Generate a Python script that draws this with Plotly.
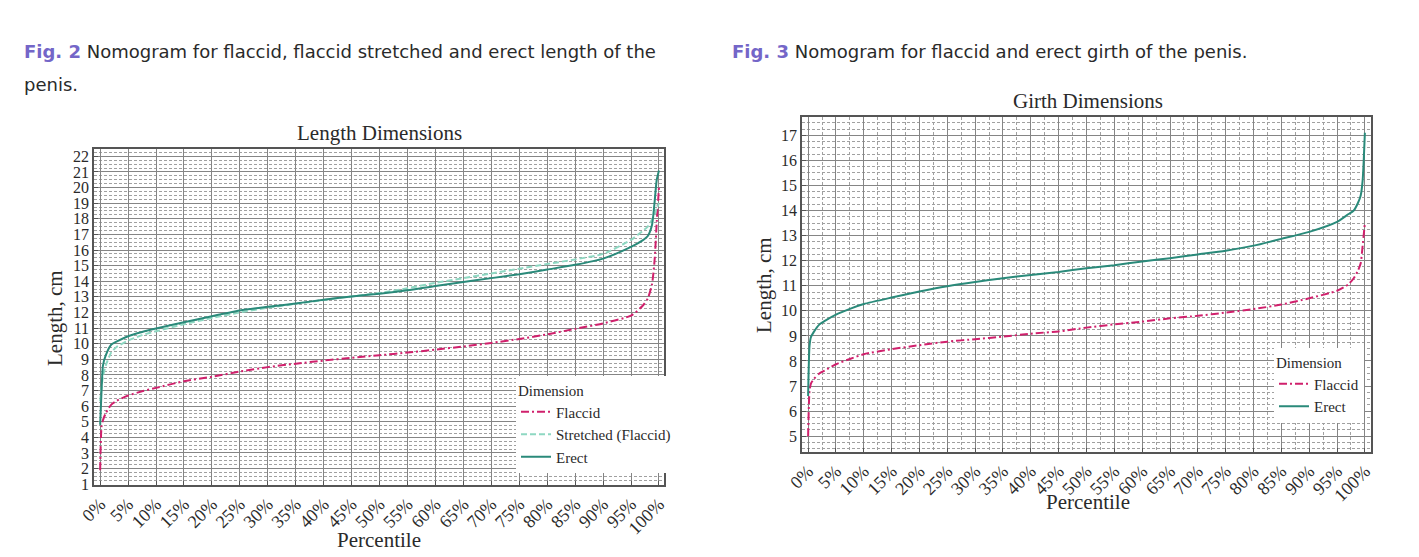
import plotly.graph_objects as go

W, H = 1419, 557

# ---------------- data ----------------
pct = [0, 0.25, 0.5, 1, 2, 3, 5, 7.5, 10, 15, 20, 25, 30, 35, 40, 45, 50,
       55, 60, 65, 70, 75, 80, 85, 90, 95, 97, 98, 98.75, 99.25, 99.6, 100]

len_flaccid = [1.9, 4.7, 5.1, 5.55, 6.1, 6.35, 6.68, 6.95, 7.17, 7.6, 7.88, 8.22, 8.5, 8.72, 8.92, 9.1, 9.26,
               9.43, 9.62, 9.82, 10.05, 10.3, 10.6, 10.95, 11.3, 11.8, 12.4, 12.9, 13.8, 15.5, 17.8, 20.0]
len_stretched = [6.3, 7.2, 7.9, 8.6, 9.45, 9.8, 10.2, 10.55, 10.8, 11.25, 11.65, 12.0, 12.3, 12.55, 12.8, 13.03, 13.25,
                 13.55, 13.9, 14.2, 14.5, 14.8, 15.1, 15.4, 15.75, 16.65, 17.2, 17.5, 17.95, 18.3, 18.7, 19.0]
len_erect = [4.8, 7.0, 8.6, 9.25, 9.95, 10.15, 10.48, 10.75, 10.97, 11.37, 11.76, 12.12, 12.36, 12.57, 12.82, 13.03, 13.2,
             13.42, 13.7, 13.95, 14.2, 14.45, 14.75, 15.05, 15.45, 16.2, 16.6, 16.9, 17.6, 19.2, 20.5, 21.1]

girth_flaccid = [5.0, 6.8, 7.1, 7.27, 7.5, 7.62, 7.87, 8.08, 8.27, 8.47, 8.63, 8.77, 8.87, 8.97, 9.09, 9.18, 9.33,
                 9.46, 9.57, 9.7, 9.8, 9.93, 10.07, 10.25, 10.5, 10.8, 11.05, 11.3, 11.6, 11.9, 12.6, 13.5]
girth_erect = [6.6, 8.6, 8.95, 9.15, 9.45, 9.6, 9.85, 10.08, 10.27, 10.53, 10.77, 10.98, 11.15, 11.3, 11.43, 11.55, 11.7,
               11.82, 11.97, 12.1, 12.25, 12.4, 12.6, 12.87, 13.15, 13.55, 13.85, 14.0, 14.3, 14.6, 15.2, 17.1]

x_tick_vals = list(range(0, 101, 5))
x_tick_text = [f"{v}%" for v in x_tick_vals]

# ---------------- style ----------------
SERIF = "Liberation Serif"
C_FLACCID = "#D0206C"
C_STRETCH = "#8ED8C2"
C_ERECT = "#2A8A7A"
TXT = "#2a2a2a"


def px_x(p):
    return p / W


def px_y(p):
    return 1 - p / H


fig = go.Figure()


def line(color, dash=None):
    d = dict(color=color, width=2, shape="spline", smoothing=0.6)
    if dash:
        d["dash"] = dash
    return d


# Length chart
fig.add_trace(go.Scatter(x=pct, y=len_flaccid, name="Flaccid", mode="lines",
                         line=line(C_FLACCID, "8px,3px,2px,3px"),
                         xaxis="x", yaxis="y", legend="legend"))
fig.add_trace(go.Scatter(x=pct, y=len_stretched, name="Stretched (Flaccid)", mode="lines",
                         line=line(C_STRETCH, "6px,3px"),
                         xaxis="x", yaxis="y", legend="legend"))
fig.add_trace(go.Scatter(x=pct, y=len_erect, name="Erect", mode="lines",
                         line=line(C_ERECT),
                         xaxis="x", yaxis="y", legend="legend"))

# Girth chart
fig.add_trace(go.Scatter(x=pct, y=girth_flaccid, name="Flaccid", mode="lines",
                         line=line(C_FLACCID, "8px,3px,2px,3px"),
                         xaxis="x2", yaxis="y2", legend="legend2"))
fig.add_trace(go.Scatter(x=pct, y=girth_erect, name="Erect", mode="lines",
                         line=line(C_ERECT),
                         xaxis="x2", yaxis="y2", legend="legend2"))

MAJOR = "#858585"
MINOR = "#a0a0a0"
FRAME = "#555555"

common_x = dict(tickvals=x_tick_vals, ticktext=x_tick_text, tickangle=-45,
                tickfont=dict(family=SERIF, size=18, color=TXT),
                showgrid=True, gridcolor=MAJOR, gridwidth=1.4, zeroline=False,
                showline=True, mirror=True, linecolor=FRAME, linewidth=1.5,
                ticks="inside", ticklen=4, tickcolor=FRAME, fixedrange=True,
                automargin=False)
common_y = dict(dtick=1, tick0=0, tickfont=dict(family=SERIF, size=16, color=TXT),
                showgrid=True, gridcolor=MAJOR, gridwidth=1.4, zeroline=False,
                showline=True, mirror=True, linecolor=FRAME, linewidth=1.5,
                ticks="inside", ticklen=4, tickcolor=FRAME,
                minor=dict(dtick=0.25, tick0=0, showgrid=True, gridcolor=MINOR,
                           griddash="3px,2px", gridwidth=1, ticks=""),
                fixedrange=True, automargin=False)

L_left, L_right, L_top, L_bot = 94, 664, 149, 485
R_left, R_right, R_top, R_bot = 802, 1371, 117, 452

fig.update_layout(
    width=W, height=H, autosize=False,
    margin=dict(l=0, r=0, t=0, b=0, pad=0, autoexpand=False),
    paper_bgcolor="white", plot_bgcolor="white",
    showlegend=True,
    xaxis=dict(domain=[px_x(L_left), px_x(L_right)], range=[-1.1, 100.9], anchor="y", **common_x),
    yaxis=dict(domain=[px_y(L_bot), px_y(L_top)], range=[0.95, 22.47], anchor="x", **common_y),
    xaxis2=dict(domain=[px_x(R_left), px_x(R_right)], range=[-1.1, 101.1], anchor="y2",
                minor=dict(dtick=2.5, tick0=0, showgrid=True, gridcolor=MINOR,
                           griddash="3px,2px", gridwidth=1, ticks=""),
                **common_x),
    yaxis2=dict(domain=[px_y(R_bot), px_y(R_top)], range=[4.37, 17.73], anchor="x2", **common_y),
    legend=dict(x=px_x(516), y=px_y(376), xanchor="left", yanchor="top",
                bgcolor="white", font=dict(family=SERIF, size=15, color=TXT),
                title=dict(text="Dimension", font=dict(family=SERIF, size=15, color=TXT)),
                itemwidth=30, tracegroupgap=0),
    legend2=dict(x=px_x(1274), y=px_y(348), xanchor="left", yanchor="top",
                 bgcolor="white", font=dict(family=SERIF, size=15, color=TXT),
                 title=dict(text="Dimension", font=dict(family=SERIF, size=15, color=TXT)),
                 itemwidth=30, tracegroupgap=0),
)

CAP_FONT = dict(family="DejaVu Sans", size=18, color=TXT)
PURPLE = "#7466C8"


def ann(text, x, y, font, xanchor="center", yanchor="middle", angle=0):
    fig.add_annotation(text=text, x=px_x(x), y=px_y(y), xref="paper", yref="paper",
                       xanchor=xanchor, yanchor=yanchor, showarrow=False,
                       font=font, textangle=angle)


ann(f"<span style='color:{PURPLE}'><b>Fig. 2</b></span> Nomogram for flaccid, flaccid stretched and erect length of the",
    22, 52, CAP_FONT, xanchor="left")
ann("penis.", 22, 84, CAP_FONT, xanchor="left")
ann(f"<span style='color:{PURPLE}'><b>Fig. 3</b></span> Nomogram for flaccid and erect girth of the penis.",
    730, 52, CAP_FONT, xanchor="left")

TF = dict(family=SERIF, size=21, color=TXT)
ann("Length Dimensions", 379, 133, TF)
ann("Length, cm", 55, 318, TF, angle=-90)
ann("Percentile", 379, 540, TF)
ann("Girth Dimensions", 1088, 101, TF)
ann("Length, cm", 764, 285, TF, angle=-90)
ann("Percentile", 1088, 502, TF)

fig.write_html("out.html")
